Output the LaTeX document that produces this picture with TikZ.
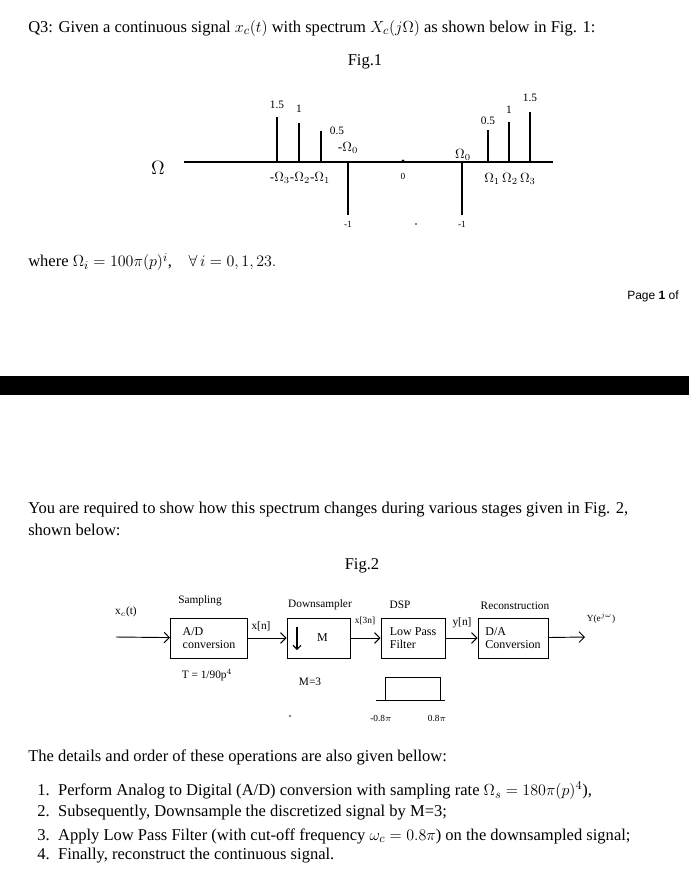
\documentclass[tikz,border=0pt]{standalone}
\usepackage{fontspec}
\usepackage{amsmath}
\setmainfont{Liberation Serif}
\setsansfont{Liberation Sans}
\usetikzlibrary{arrows.meta}
\begin{document}
\begin{tikzpicture}[x=0.75pt,y=-0.75pt,
  txt/.style={anchor=west,inner sep=0,font=\fontsize{12.4}{14}\selectfont},
  sm/.style={inner sep=0,font=\fontsize{8.5}{9}\selectfont},
  ssm/.style={inner sep=0,font=\fontsize{7}{8}\selectfont},
  imp/.style={line width=1.1pt},
  blk/.style={draw,line width=0.7pt,minimum height=40*0.75pt,inner sep=1pt,font=\fontsize{9}{9.5}\selectfont,align=left},
  arr/.style={line width=0.7pt,-{Straight Barb[length=4pt]}}]
\useasboundingbox (0,0) rectangle (689,878);
\node[txt] (q) at (28,28) {Q3: Given a continuous signal $x_c(t)$ with spectrum $X_c(j\Omega)$ as shown below in Fig. 1:};
\node[txt,anchor=center] (f1) at (365,62) {Fig.1};
% axis
\coordinate (a0) at (184,162); \coordinate (a1) at (553,162);
\draw[line width=0.9pt] (a0) -- (a1);
\node[font=\fontsize{14}{15}\selectfont,inner sep=0] (om) at (158,168) {$\Omega$};
\foreach \n/\x/\t in {m3/277/117,m2/299/123,m1/321/131,p1/488/130,p2/509/122,p3/530/112}{
  \coordinate (\n b) at (\x,162); \coordinate (\n t) at (\x,\t);
  \draw[imp] (\n b) -- (\n t);}
\foreach \n/\x in {m0/348,p0/462}{
  \coordinate (\n b) at (\x,162); \coordinate (\n t) at (\x,215);
  \draw[imp] (\n b) -- (\n t);}
\node[sm] (l1) at (277,105) {1.5};
\node[sm] (l2) at (299,109) {1};
\node[sm] (l3) at (337,131) {0.5};
\node[sm] (l4) at (488,121) {0.5};
\node[sm] (l5) at (509,110) {1};
\node[sm] (l6) at (530,98) {1.5};
\node[font=\fontsize{10}{11}\selectfont,inner sep=0] (l7) at (348,148) {-$\Omega_0$};
\node[font=\fontsize{10}{11}\selectfont,inner sep=0] (l8) at (463,155) {$\Omega_0$};
\node[ssm] (l9) at (403,176) {0};
\fill (403,161) circle (1.2pt);
\fill (416,224) circle (0.6pt);
\node[font=\fontsize{10}{11}\selectfont,inner sep=0] (l10) at (300,178) {-$\Omega_3$-$\Omega_2$-$\Omega_1$};
\node[font=\fontsize{10}{11}\selectfont,inner sep=0] (l11) at (510,179) {$\Omega_1\,\Omega_2\,\Omega_3$};
\node[ssm] (l12) at (348,224) {-1};
\node[ssm] (l13) at (462,224) {-1};
\node[txt] (w) at (28,262) {where $\Omega_i = 100\pi(p)^i$,\quad $\forall\, i = 0,1,23.$};
\node[anchor=west,inner sep=0,font=\sffamily\fontsize{9}{10}\selectfont] (pg) at (627,296) {Page \textbf{1} of};
\fill (0,376) rectangle (689,395);
\node[txt] (y1) at (28,510) {You are required to show how this spectrum changes during various stages given in Fig. 2,};
\node[txt] (y2) at (28,530) {shown below:};
\node[txt,anchor=center] (f2) at (362,566) {Fig.2};
% blocks
\node[blk,minimum width=77*0.75pt] (ad) at (209,638) {A/D\\conversion};
\node[blk,minimum width=63*0.75pt] (dm) at (318.5,638) {\hspace*{6pt}M};
\node[blk,minimum width=64*0.75pt] (lp) at (413,638) {Low Pass\\Filter};
\node[blk,minimum width=70*0.75pt] (da) at (513,638) {D/A\\Conversion};
\coordinate (dt) at (297,627); \coordinate (db) at (297,650);
\draw[line width=0.8pt,-{Straight Barb[length=3pt]}] (dt) -- (db);
\coordinate (in) at (116,637); \coordinate (out) at (585,637);
\draw[arr] (in) -- (ad);
\draw[arr] (ad) -- (dm);
\draw[arr] (dm) -- (lp);
\draw[arr] (lp) -- (da);
\draw[arr] (da) -- (out);
\node[sm] (s1) at (200,601) {Sampling};
\node[sm] (s2) at (126,612) {x$_c$(t)};
\node[sm] (s3) at (261,626) {x[n]};
\node[sm] (s4) at (320,605) {Downsampler};
\node[ssm] (s5) at (365,621) {x[3n]};
\node[sm] (s6) at (400,605) {DSP};
\node[sm] (s7) at (462,623) {y[n]};
\node[sm] (s8) at (515,606) {Reconstruction};
\node[ssm] (s9) at (601,618) {Y(e$^{j\omega}$)};
\node[sm] (s10) at (207,675) {T = 1/90p$^4$};
\node[sm] (s11) at (310,682) {M=3};
\draw[line width=0.7pt] (385,700) -- (385,677) -- (440,677) -- (440,700);
\draw[line width=0.7pt] (376,700) -- (445,700);
\node[ssm] (s12) at (381,718) {-0.8$\pi$};
\node[ssm] (s13) at (437,718) {0.8$\pi$};
\fill (290,716) circle (0.6pt);
\node[txt] (d0) at (28,757) {The details and order of these operations are also given bellow:};
\node[txt] (d1) at (33,791) {\ 1.\ \ Perform Analog to Digital (A/D) conversion with sampling rate $\Omega_s = 180\pi(p)^4$),};
\node[txt] (d2) at (33,813) {\ 2.\ \ Subsequently, Downsample the discretized signal by M=3;};
\node[txt] (d3) at (33,836) {\ 3.\ \ Apply Low Pass Filter (with cut-off frequency $\omega_c = 0.8\pi$) on the downsampled signal;};
\node[txt] (d4) at (33,856) {\ 4.\ \ Finally, reconstruct the continuous signal.};
\end{tikzpicture}
\end{document}
